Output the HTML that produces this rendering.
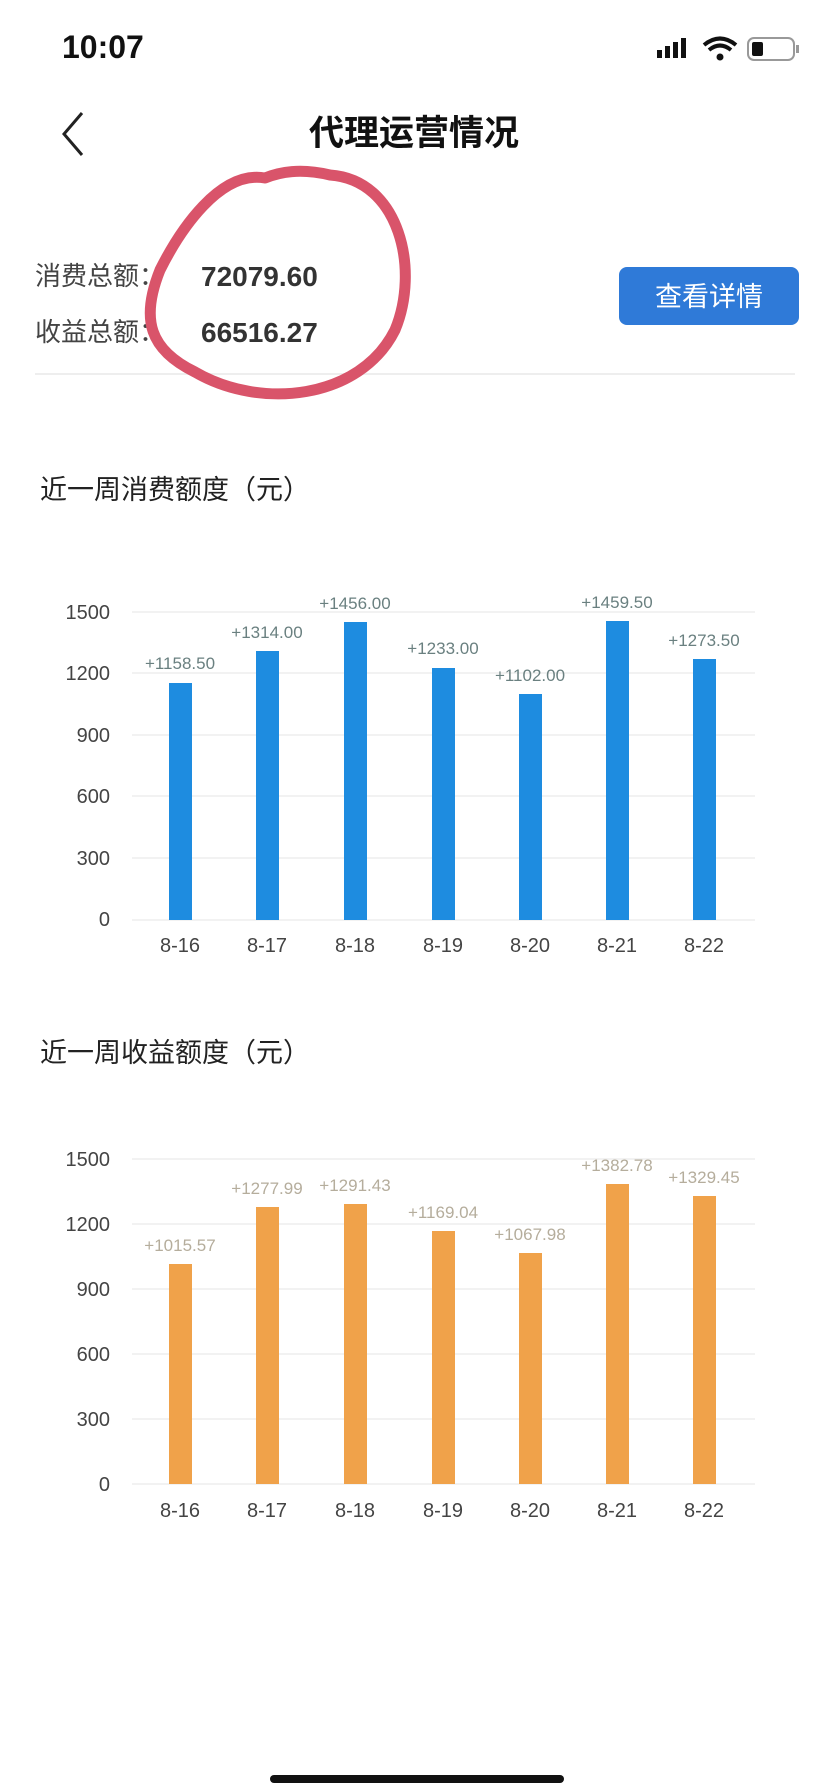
<!DOCTYPE html>
<html><head><meta charset="utf-8"><style>
html,body{margin:0;padding:0;background:#fff;}
body{width:828px;height:1792px;overflow:hidden;font-family:"Liberation Sans","Noto Sans CJK SC",sans-serif;}
</style></head><body>
<svg width="828" height="1792" viewBox="0 0 828 1792" xmlns="http://www.w3.org/2000/svg" style="display:block">
<text x="62" y="58" font-size="32" font-weight="bold" fill="#111" font-family="Liberation Sans,sans-serif">10:07</text>
<g fill="#111">
<rect x="657" y="50" width="5" height="8"/><rect x="665" y="46" width="5" height="12"/><rect x="673" y="42" width="5" height="16"/><rect x="681" y="38" width="5" height="20"/>
</g>
<path d="M704 45 Q720 32 736 45" stroke="#111" stroke-width="4" fill="none"/>
<path d="M709 50 Q720 41 731 50" stroke="#111" stroke-width="4" fill="none"/>
<circle cx="720" cy="57" r="3.5" fill="#111"/>
<rect x="748" y="38" width="46" height="22" rx="6" fill="none" stroke="#999" stroke-width="2"/>
<rect x="752" y="42" width="11" height="14" rx="2" fill="#111"/>
<rect x="796" y="45" width="3" height="8" fill="#999"/>
<path d="M82 113 L64 134 L82 155" stroke="#222" stroke-width="3" fill="none"/>
<text x="414" y="145" font-size="35" text-anchor="middle" fill="#111" font-weight="bold" font-family="Liberation Sans,Noto Sans CJK SC,sans-serif">代理运营情况</text>
<text x="35" y="285" font-size="26" fill="#444" font-family="Liberation Sans,Noto Sans CJK SC,sans-serif">消费总额：</text>
<text x="35" y="341" font-size="26" fill="#444" font-family="Liberation Sans,Noto Sans CJK SC,sans-serif">收益总额：</text>
<text x="201" y="286" font-size="28" fill="#333" font-weight="bold">72079.60</text>
<text x="201" y="342" font-size="28" fill="#333" font-weight="bold">66516.27</text>
<rect x="619" y="267" width="180" height="58" rx="8" fill="#2f7ad8"/>
<text x="709" y="306" font-size="27" fill="#fff" text-anchor="middle" font-family="Liberation Sans,Noto Sans CJK SC,sans-serif">查看详情</text>
<rect x="35" y="373" width="760" height="2" fill="#eee"/>
<path d="M265 178 C220 170 180 230 160 270 C140 320 150 350 195 372 C260 410 360 400 395 330 C420 270 400 180 330 175 C300 168 280 172 265 178" stroke="#d9546a" stroke-width="11" fill="none" stroke-linecap="round"/>
<text x="40" y="499" font-size="27" fill="#222" font-family="Liberation Sans,Noto Sans CJK SC,sans-serif">近一周消费额度（元）</text>
<g font-size="20" fill="#444" text-anchor="end">
<text x="110" y="619">1500</text><text x="110" y="680">1200</text><text x="110" y="742">900</text><text x="110" y="803">600</text><text x="110" y="865">300</text><text x="110" y="926">0</text>
</g>
<g stroke="#eee" stroke-width="1.5">
<line x1="132" y1="612" x2="755" y2="612"/><line x1="132" y1="673" x2="755" y2="673"/><line x1="132" y1="735" x2="755" y2="735"/><line x1="132" y1="796" x2="755" y2="796"/><line x1="132" y1="858" x2="755" y2="858"/><line x1="132" y1="920" x2="755" y2="920"/>
</g>
<g fill="#1e8ce0">
<rect x="169" y="683" width="23" height="237"/><rect x="256" y="651" width="23" height="269"/><rect x="344" y="622" width="23" height="298"/><rect x="432" y="668" width="23" height="252"/><rect x="519" y="694" width="23" height="226"/><rect x="606" y="621" width="23" height="299"/><rect x="693" y="659" width="23" height="261"/>
</g>
<g font-size="17" fill="#6a8080" text-anchor="middle">
<text x="180" y="669">+1158.50</text><text x="267" y="638">+1314.00</text><text x="355" y="609">+1456.00</text><text x="443" y="654">+1233.00</text><text x="530" y="681">+1102.00</text><text x="617" y="608">+1459.50</text><text x="704" y="646">+1273.50</text>
</g>
<g font-size="20" fill="#444" text-anchor="middle">
<text x="180" y="952">8-16</text><text x="267" y="952">8-17</text><text x="355" y="952">8-18</text><text x="443" y="952">8-19</text><text x="530" y="952">8-20</text><text x="617" y="952">8-21</text><text x="704" y="952">8-22</text>
</g>
<text x="40" y="1062" font-size="27" fill="#222" font-family="Liberation Sans,Noto Sans CJK SC,sans-serif">近一周收益额度（元）</text>
<g font-size="20" fill="#444" text-anchor="end">
<text x="110" y="1166">1500</text><text x="110" y="1231">1200</text><text x="110" y="1296">900</text><text x="110" y="1361">600</text><text x="110" y="1426">300</text><text x="110" y="1491">0</text>
</g>
<g stroke="#eee" stroke-width="1.5">
<line x1="132" y1="1159" x2="755" y2="1159"/><line x1="132" y1="1224" x2="755" y2="1224"/><line x1="132" y1="1289" x2="755" y2="1289"/><line x1="132" y1="1354" x2="755" y2="1354"/><line x1="132" y1="1419" x2="755" y2="1419"/><line x1="132" y1="1484" x2="755" y2="1484"/>
</g>
<g fill="#f0a24a">
<rect x="169" y="1264" width="23" height="220"/><rect x="256" y="1207" width="23" height="277"/><rect x="344" y="1204" width="23" height="280"/><rect x="432" y="1231" width="23" height="253"/><rect x="519" y="1253" width="23" height="231"/><rect x="606" y="1184" width="23" height="300"/><rect x="693" y="1196" width="23" height="288"/>
</g>
<g font-size="17" fill="#b5ad9c" text-anchor="middle">
<text x="180" y="1251">+1015.57</text><text x="267" y="1194">+1277.99</text><text x="355" y="1191">+1291.43</text><text x="443" y="1218">+1169.04</text><text x="530" y="1240">+1067.98</text><text x="617" y="1171">+1382.78</text><text x="704" y="1183">+1329.45</text>
</g>
<g font-size="20" fill="#444" text-anchor="middle">
<text x="180" y="1517">8-16</text><text x="267" y="1517">8-17</text><text x="355" y="1517">8-18</text><text x="443" y="1517">8-19</text><text x="530" y="1517">8-20</text><text x="617" y="1517">8-21</text><text x="704" y="1517">8-22</text>
</g>
<rect x="270" y="1775" width="294" height="8" rx="4" fill="#111"/>
</svg>
</body></html>
